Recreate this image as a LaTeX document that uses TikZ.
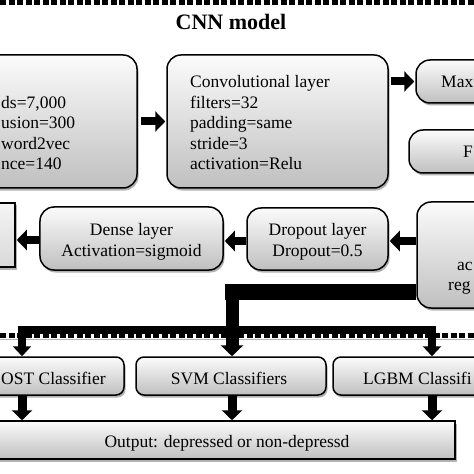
\documentclass[tikz,border=0pt]{standalone}
\usepackage{fontspec}
\setmainfont{Liberation Serif}
\usetikzlibrary{arrows.meta,shadows,calc}
\begin{document}
\begin{tikzpicture}[x=1bp,y=-1bp,
  box/.style={draw=black,line width=1.5bp,rounded corners=14bp,top color=gray!3,bottom color=gray!50,
    drop shadow={shadow xshift=1.5bp,shadow yshift=-2.5bp,fill=gray!75,opacity=.8},inner sep=0pt},
  sqbox/.style={box,rounded corners=0pt},
  txt/.style={font=\fontsize{17.5bp}{20.5bp}\selectfont,inner sep=0pt},
  blk/.style={line width=8bp,-{Triangle[length=10bp,width=20bp]}},
  dots/.style={line width=5bp,dash pattern=on 6bp off 2.5bp}
]
\useasboundingbox (0,0) rectangle (474,474);
\clip (0,0) rectangle (474,474);
\fill[white] (0,0) rectangle (474,474);

% dotted separators
\draw[dots] (0,2.5) -- (474,2.5);
\draw[gray!60,line width=1.5bp] (0,339.5) -- (474,339.5);
\draw[dots] (0,335.5) -- (474,335.5);

% title
\node[font=\fontsize{22bp}{24bp}\selectfont\bfseries,inner sep=0pt] (title) at (231,22) {CNN model};

% row 1
\node[box,minimum width=287bp,minimum height=133bp] (emb) at (-6.5,121.5) {};
\node[txt,align=left,anchor=west] (embt) at (1,133) {ds=7,000\\usion=300\\word2vec\\nce=140};
\node[box,minimum width=221bp,minimum height=133bp] (conv) at (277.5,121.5) {};
\node[txt,align=left,anchor=west] (convt) at (190,123) {Convolutional layer\\filters=32\\padding=same\\stride=3\\activation=Relu};
\node[box,minimum width=104bp,minimum height=43bp] (maxp) at (468,81.5) {};
\node[txt,anchor=west] (maxt) at (441,82) {Max};

% row 2
\node[box,minimum width=121bp,minimum height=43bp] (flat) at (469.5,151.5) {};
\node[txt,anchor=west] (flatt) at (463,152) {F};

% row 3
\node[box,minimum width=143bp,minimum height=106bp] (r3) at (488.5,255) {};
\node[txt,align=left,anchor=west] (r3t) at (448,278.5) {\hspace*{9bp}ac\\reg};
\node[box,minimum width=141bp,minimum height=62bp] (drop) at (317.5,239) {};
\node[txt,align=center] (dropt) at (317.5,242) {Dropout layer\\Dropout=0.5};
\node[box,minimum width=183bp,minimum height=63bp] (dense) at (131.5,238.5) {};
\node[txt,align=center] (denset) at (131.5,242) {Dense layer\\Activation=sigmoid};
\node[sqbox,minimum width=65bp,minimum height=64bp,top color=gray!8,bottom color=gray!30] (lbox) at (-17.5,235) {};

% classifiers
\node[box,rounded corners=8bp,minimum width=204bp,minimum height=38bp] (clsA) at (22,376) {};
\node[txt,anchor=west] (clsAt) at (1,378) {OST Classifier};
\node[box,rounded corners=8bp,minimum width=190bp,minimum height=38bp] (clsB) at (231,376) {};
\node[txt] (clsBt) at (229,378) {SVM Classifiers};
\node[box,rounded corners=8bp,minimum width=198bp,minimum height=38bp] (clsC) at (432,376) {};
\node[txt,anchor=west] (clsCt) at (363,378) {LGBM Classifi};

% output
\node[sqbox,minimum width=457bp,minimum height=38bp] (out) at (226.5,440) {};
\node[txt] (outt) at (227,443) {Output: depressed or non-depressd};

% arrows
\draw[blk,shorten <=3bp,shorten >=1bp] (emb.east) -- (conv.west);
\draw[blk,shorten <=2bp,shorten >=1bp] (conv.east |- maxp) -- (maxp.west);
\draw[blk,shorten <=0bp,shorten >=1bp] (r3.west |- 0,241) -- (drop.east |- 0,241);
\draw[blk,shorten <=0bp,shorten >=1bp] (drop.west |- 0,241) -- (dense.east |- 0,241);
\draw[blk,shorten <=0bp,shorten >=1bp] (dense.west |- 0,240) -- (lbox.east |- 0,240);

% branch to classifiers
\coordinate (j) at (232,291.5);
\coordinate (b) at (232,330);
\draw[line width=16bp] (r3.west |- j) -- ($(j)+(-7.5,0)$);
\draw[line width=13bp,-{Triangle[length=11bp,width=22bp]}] ($(j)+(0,-8)$) -- (clsB.north -| j);
\draw[line width=8bp,-{Triangle[length=10bp,width=18bp]}] (b) -| (clsA.north);
\draw[line width=8bp,-{Triangle[length=10bp,width=18bp]}] (b) -| (clsC.north);

% classifiers to output
\draw[line width=9bp,-{Triangle[length=10bp,width=20bp]}] (clsA.south) -- (clsA.south |- out.north);
\draw[line width=9bp,-{Triangle[length=10bp,width=20bp]}] (clsB.south -| j) -- (out.north -| j);
\draw[line width=9bp,-{Triangle[length=10bp,width=20bp]}] (clsC.south) -- (clsC.south |- out.north);
\end{tikzpicture}
\end{document}
